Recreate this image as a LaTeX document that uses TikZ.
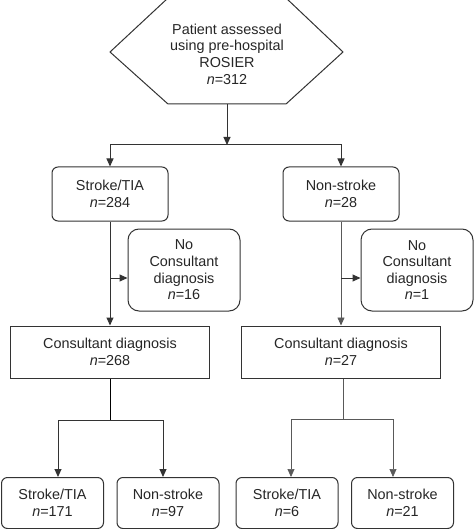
\documentclass[tikz,border=0pt]{standalone}
\usepackage{fontspec}
\setmainfont{Liberation Sans}
\usetikzlibrary{arrows.meta,calc}

\begin{document}
\begin{tikzpicture}[x=1pt,y=-1pt,line width=1pt,
  txt/.style={align=center,inner sep=0pt,text=black!85,font=\fontsize{14.4}{16.6}\selectfont},
  rbox/.style={txt,draw=black!80,rounded corners=6pt,minimum width=116pt,minimum height=54pt},
  nbox/.style={txt,draw=black!80,rounded corners=11pt,minimum width=112pt,minimum height=82pt},
  cbox/.style={txt,draw=black!80,minimum width=199pt,minimum height=52pt},
  sbox/.style={txt,draw=black!80,rounded corners=6pt,minimum width=102pt,minimum height=51pt},
  arr/.style={draw=black!80,-{Triangle[length=8pt,width=7pt]}},
  lite/.style={draw=black!65,line width=0.7pt}]
\useasboundingbox (0,0) rectangle (474,529);
\draw[black!80] (110,52)--(168,-2)--(286,-2)--(343,52)--(286,104)--(168,104)--cycle;
\node[txt] (start) at (227,54) {Patient assessed\\using pre-hospital\\ROSIER\\\textit{n}=312};
\coordinate (hexb) at (227,104); \coordinate (fork) at (227,145);
\node[rbox] (st1) at (110,194) {Stroke/TIA\\\textit{n}=284};
\node[rbox] (ns1) at (341,194) {Non-stroke\\\textit{n}=28};
\node[nbox] (nc1) at (184,270) {No\\Consultant\\diagnosis\\\textit{n}=16};
\node[nbox] (nc2) at (417,270) {No\\Consultant\\diagnosis\\\textit{n}=1};
\node[cbox] (cd1) at (110,352) {Consultant diagnosis\\\textit{n}=268};
\node[cbox] (cd2) at (341,352) {Consultant diagnosis\\\textit{n}=27};
\node[sbox] (st2) at (52.5,503) {Stroke/TIA\\\textit{n}=171};
\node[sbox] (ns2) at (168,503) {Non-stroke\\\textit{n}=97};
\node[sbox] (st3) at (287,503) {Stroke/TIA\\\textit{n}=6};
\node[sbox] (ns3) at (402.5,503) {Non-stroke\\\textit{n}=21};
\draw[arr] (hexb) -- (fork);
\draw[arr] (fork) -| (st1.north);
\draw[arr] (fork) -| (ns1.north);
\draw[arr] (st1.south) -- (cd1.north);
\draw[arr,lite] (ns1.south) -- (cd2.north);
\coordinate (b1) at (110,278); \coordinate (b2) at (341,278);
\draw[arr] (b1) -- (b1 -| nc1.west);
\draw[arr] (b2) -- (b2 -| nc2.west);
\coordinate (j1) at (110,420); \coordinate (j2) at (343,419);
\draw (cd1.south) -- (j1);
\draw[arr] (j1) -| ([xshift=5.5pt]st2.north);
\draw[arr] (j1) -| ([xshift=-5pt]ns2.north);
\draw[lite] (cd2.south -| j2) -- (j2);
\draw[arr,lite] (j2) -| ([xshift=4pt]st3.north);
\draw[arr,lite] (j2) -| ([xshift=-9.5pt]ns3.north);
\end{tikzpicture}
\end{document}
